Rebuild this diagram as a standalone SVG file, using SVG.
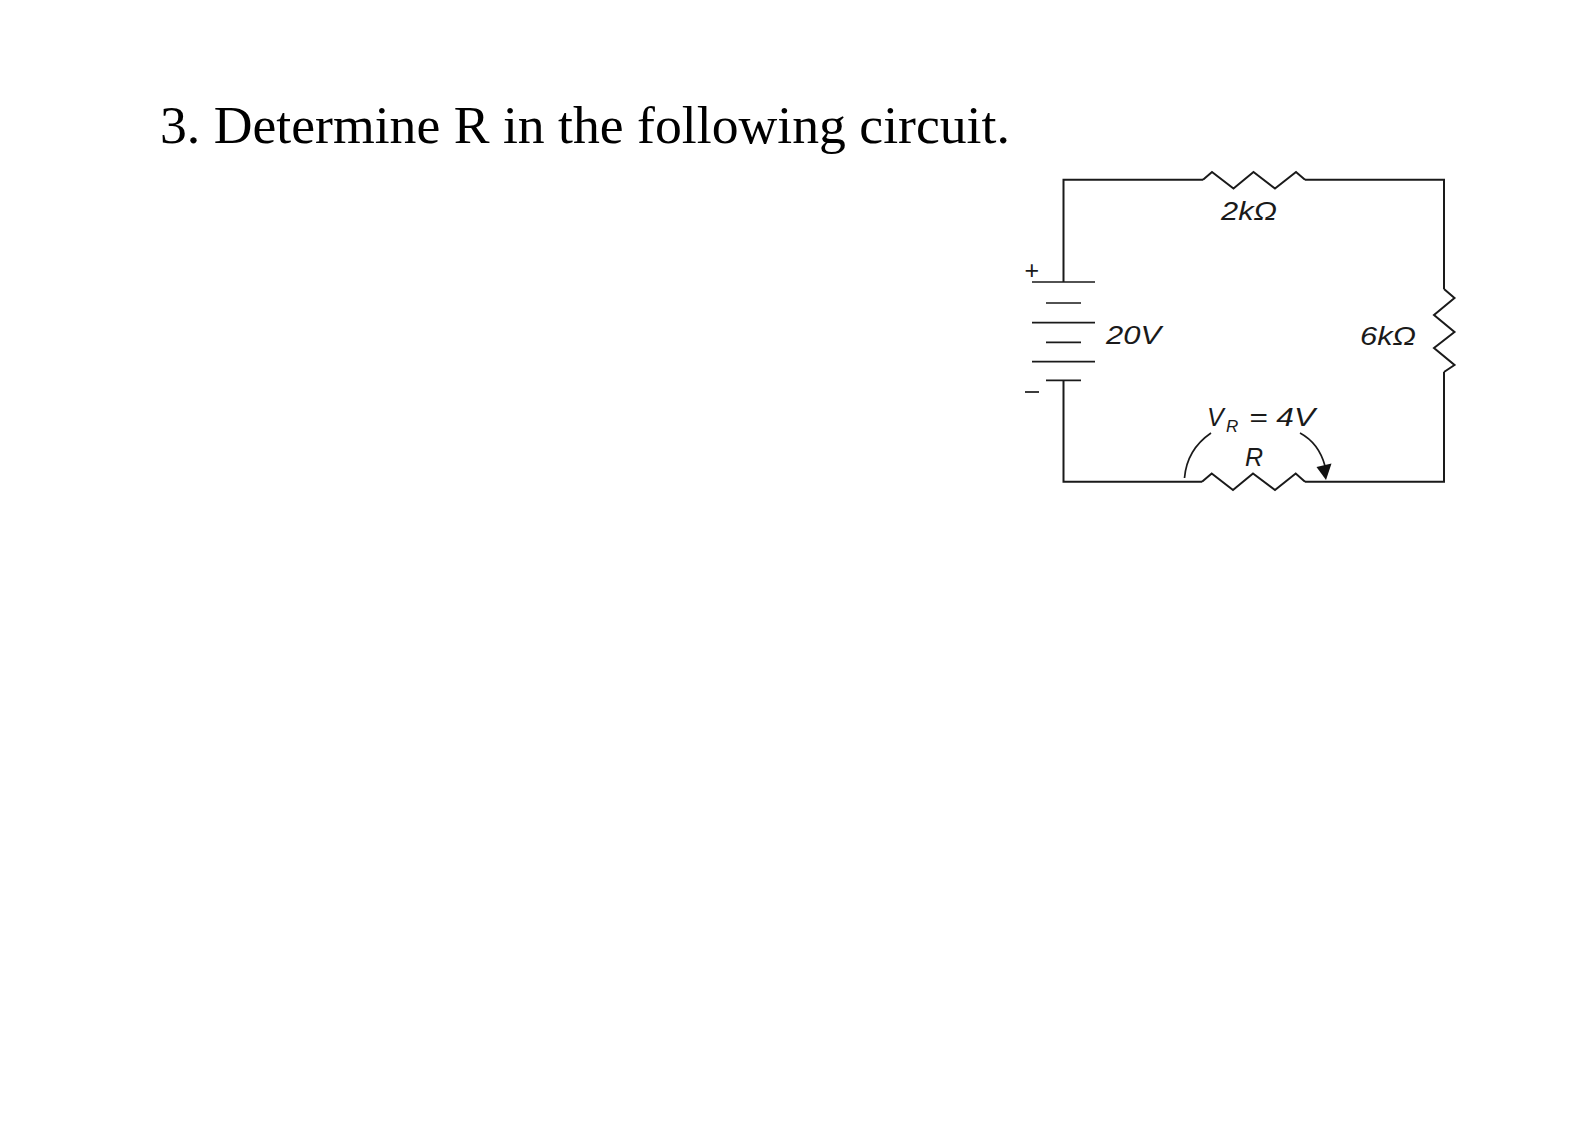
<svg xmlns="http://www.w3.org/2000/svg" width="1592" height="1145" viewBox="0 0 1592 1145">
<defs>
<style>
.w{fill:none;stroke:#1a1a1a;stroke-width:2;stroke-linejoin:miter}
.p{fill:none;stroke:#1a1a1a;stroke-width:1.7}
.l{font-family:"Liberation Sans",Arial,sans-serif;font-style:italic;font-size:25px;fill:#1a1a1a}
.s{font-family:"Liberation Sans",Arial,sans-serif;font-size:25px;fill:#1a1a1a}
</style>
</defs>
<rect width="1592" height="1145" fill="#fff"/>
<text id="title" x="160" y="143" font-family="'Liberation Serif','Times New Roman',serif" font-size="53.7" fill="#000">3. Determine R in the following circuit.</text>
<g id="connectors">
<path class="w" d="M1063.5 282V179.7H1203"/>
<path class="w" d="M1305 179.7H1444V289"/>
<path class="w" d="M1444 372V481.7H1305"/>
<path class="w" d="M1202 481.7H1063.500V380"/>
</g>
<g id="resistor-2k">
<path class="w" d="M1203 179.7L1212 172L1233.5 188.5L1253.500 172L1275 188.5L1296 172L1305 179.7"/>
<text class="l" x="1221" y="220" textLength="56" lengthAdjust="spacingAndGlyphs">2kΩ</text>
</g>
<g id="resistor-6k">
<path class="w" d="M1444 289L1454.500 298L1434 315L1454.500 332L1434 348L1454.500 365L1444 372"/>
<text class="l" x="1360" y="345" textLength="56" lengthAdjust="spacingAndGlyphs">6kΩ</text>
</g>
<g id="resistor-r">
<path class="w" d="M1202 481.700L1211.700 473.500L1233 490L1253 473.500L1275 490L1295.700 473.500L1305 481.700"/>
<text class="l" x="1245" y="466">R</text>
</g>
<g id="battery">
<path class="p" d="M1032 282H1095M1046 303H1081M1032 322.700H1095M1046 342.300H1081M1032 361.700H1095M1046 380.300H1081"/>
<text class="s" x="1024.500" y="279">+</text>
<path class="p" d="M1025 392H1039"/>
<text class="l" x="1106" y="344" textLength="55" lengthAdjust="spacingAndGlyphs">20V</text>
</g>
<g id="voltage-label">
<text class="l" x="1207" y="426">V</text>
<text class="l" x="1226" y="432" style="font-size:17px">R</text>
<text class="l" x="1249" y="426" textLength="66" lengthAdjust="spacingAndGlyphs">= 4V</text>
<path class="p" d="M1184.500 478C1186 460 1195 444 1211 433"/>
<path class="p" d="M1300 433C1313 440 1321 451 1325 466"/>
<path d="M1316.500 467L1331.500 463.500L1326 480Z" fill="#111"/>
</g>
</svg>
